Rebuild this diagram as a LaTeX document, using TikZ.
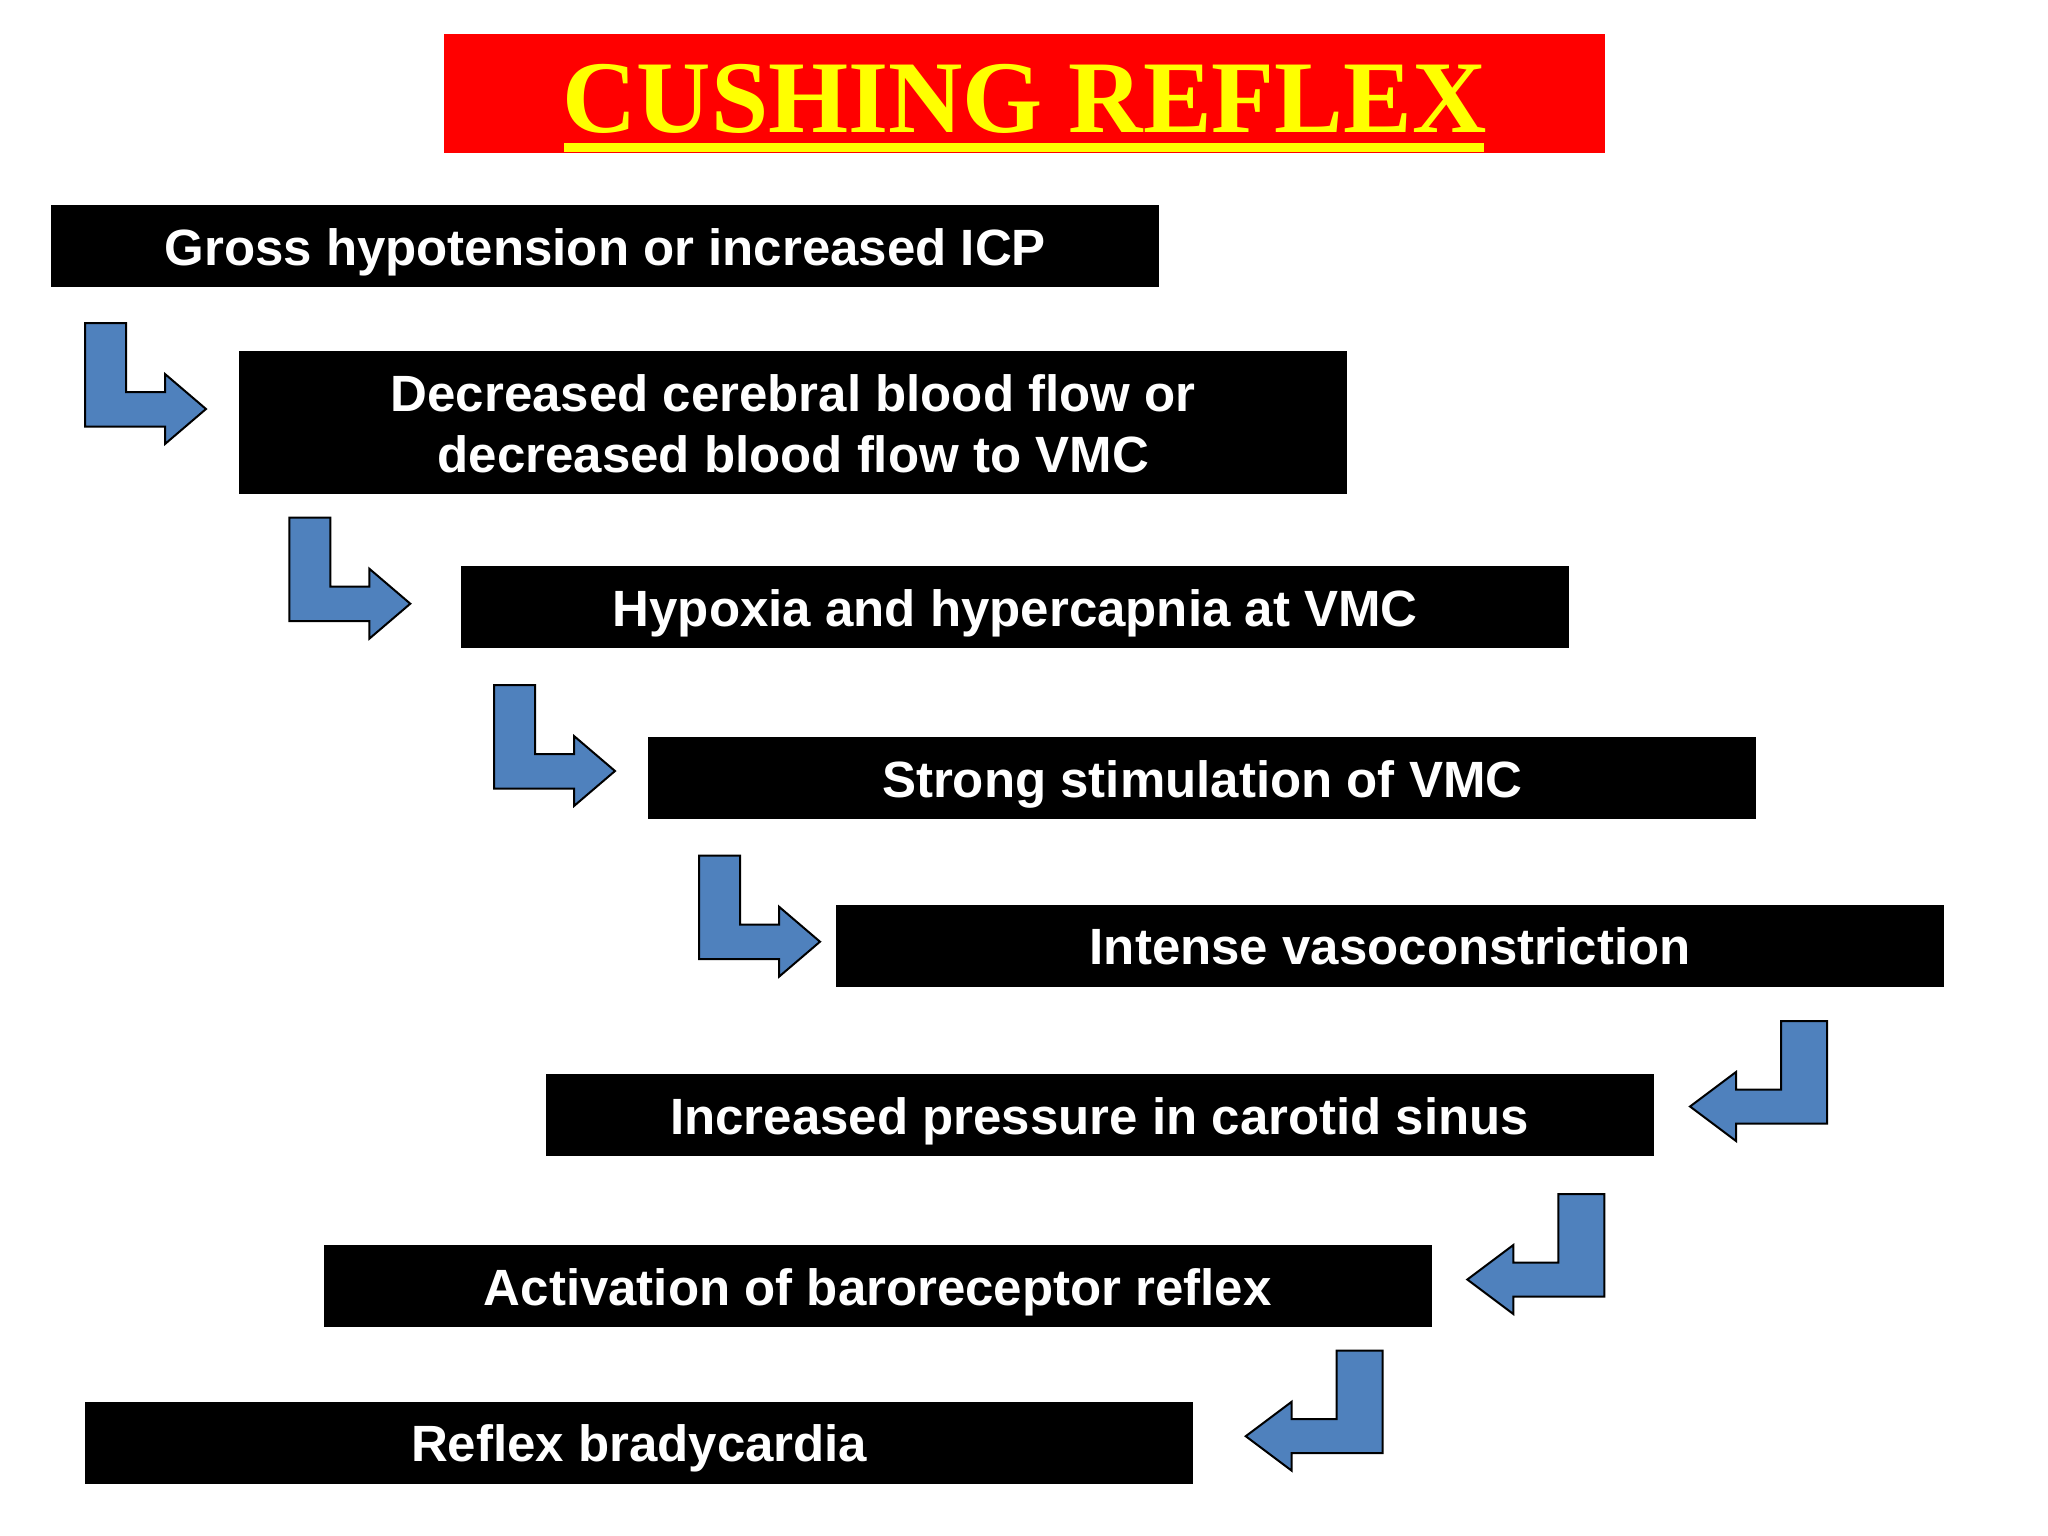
\documentclass[tikz,border=0pt]{standalone}
\usepackage{fontspec}
\setmainfont{Liberation Sans}
\newfontfamily\titlefont{Liberation Serif}
\definecolor{arrowblue}{HTML}{4F81BD}
\definecolor{titleyellow}{HTML}{FFFF00}
\definecolor{titlered}{HTML}{FF0000}
\begin{document}
\begin{tikzpicture}[x=1pt,y=-1pt,
  stepbox/.style={fill=black, draw=none, minimum width=1108pt, minimum height=82pt,
    inner sep=0pt, anchor=north west, text=white, align=center,
    font=\bfseries\fontsize{51}{61.7}\selectfont, text height=38pt, text depth=0pt},
  arrowshape/.style={fill=arrowblue, draw=black, line width=2pt, line join=miter},
  rbent/.pic={\draw[arrowshape] (0,0) -- (41,0) -- (41,69) -- (80,69) -- (80,51)
     -- (121,86) -- (80,121) -- (80,103.5) -- (0,103.5) -- cycle;},
  lbent/.pic={\draw[arrowshape] (0,0) -- (0,102.5) -- (-91,102.5) -- (-91,120)
     -- (-137,85.5) -- (-91,51) -- (-91,68.5) -- (-46,68.5) -- (-46,0) -- cycle;}
]
\useasboundingbox (0,0) rectangle (2048,1536);
\fill[white] (0,0) rectangle (2048,1536);

% title
\node[fill=titlered, minimum width=1161pt, minimum height=119pt, anchor=north west,
  inner sep=0pt] (titlebox) at (443.7,34) {};
\node[anchor=base, inner sep=0pt, text=titleyellow,
  font=\titlefont\bfseries\fontsize{103}{110}\selectfont] (titletext) at (1024.5,132.3) {CUSHING REFLEX};
\fill[titleyellow] (564.2,142.7) rectangle (1483.5,152.3);

% boxes
\node[stepbox] (b1) at (51,205) {Gross hypotension or increased ICP};
\node[stepbox, minimum height=143pt, text height=100.4pt, text depth=0pt] (b2) at (239,351)
  {Decreased cerebral blood flow or\\decreased blood flow to VMC};
\node[stepbox] (b3) at (461,566) {Hypoxia and hypercapnia at VMC};
\node[stepbox] (b4) at (648,737) {Strong stimulation of VMC};
\node[stepbox] (b5) at (836,904.5) {Intense vasoconstriction};
\node[stepbox] (b6) at (545.5,1074) {Increased pressure in carotid sinus};
\node[stepbox] (b7) at (323.6,1245) {Activation of baroreceptor reflex};
\node[stepbox] (b8) at (85,1401.6) {Reflex bradycardia};

% bent arrows
\pic at (85,323) {rbent};
\pic at (289.3,517.7) {rbent};
\pic at (494,685) {rbent};
\pic at (699,855.7) {rbent};
\pic at (1827,1021) {lbent};
\pic at (1604.3,1194) {lbent};
\pic at (1382.7,1350.7) {lbent};
\end{tikzpicture}
\end{document}
